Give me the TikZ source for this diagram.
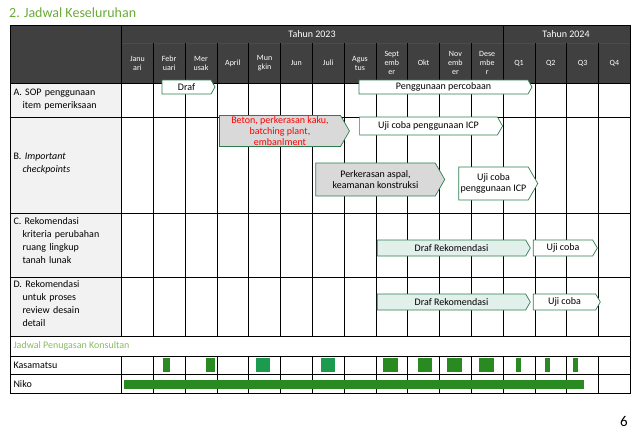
\documentclass[tikz,border=0pt]{standalone}
\usepackage{fontspec}
\setmainfont{Carlito}
\usetikzlibrary{positioning, shapes.symbols, calc}
\definecolor{hdr}{HTML}{404040}
\definecolor{lblbg}{HTML}{F2F2F2}
\definecolor{ttl}{HTML}{6AAA38}
\definecolor{taskline}{HTML}{2E7D4F}
\definecolor{graybox}{HTML}{D9D9D9}
\definecolor{tealbg}{HTML}{E2F0EC}
\definecolor{bardark}{HTML}{2A8A22}
\definecolor{barlight}{HTML}{1C9A4E}
\begin{document}
\begin{tikzpicture}[x=1pt, y=-1pt,
    task/.style={
        signal, signal to=east, signal pointer angle=120, draw=taskline, line width=0.7pt,
        fill=#1, font=\fontsize{10}{11}\selectfont, align=center, inner sep=1pt
    },
    task/.default=white,
    rowlbl/.style={
        font=\fontsize{10}{13}\selectfont, align=left, anchor=north west, text width=110pt
    },
    hdrlbl/.style={
        font=\fontsize{8}{9}\selectfont, color=white, align=center
    },
    bar/.style={fill=#1, draw=none}
]
\useasboundingbox (0,0) rectangle (638,442);

% Title
\node[font=\fontsize{14}{15}\selectfont, color=ttl, anchor=west, inner sep=0pt] (title) at (9,13) {2. Jadwal Keseluruhan};

% Header
\fill[hdr] (10,25) rectangle (630,83);
\fill[lblbg] (10,83) rectangle (121.5,336);
\node[hdrlbl, font=\fontsize{10}{11}\selectfont] (y2023) at (312,34) {Tahun 2023};
\node[hdrlbl, font=\fontsize{10}{11}\selectfont] (y2024) at (566,34) {Tahun 2024};
\draw[black!70, line width=0.8pt] (121.5,43) -- (630,43);
\foreach \m [count=\i from 0] in {Janu\\ari, Febr\\uari, Mer\\usak, April, Mun\\gkin, Jun, Juli,
    Agus\\tus, Sept\\emb\\er, Okt, Nov\\emb\\er, Dese\\mbe\\r, Q1, Q2, Q3, Q4} {
    \node[hdrlbl] (m\i) at ({137.4+31.8*\i},63) {\m};
}

% Grid lines
\foreach \i in {0,...,16} {
    \draw[black, line width=0.6pt] ({121.5+31.8*\i},43) -- ({121.5+31.8*\i},336);
    \draw[black, line width=0.6pt] ({121.5+31.8*\i},356) -- ({121.5+31.8*\i},393);
}
\draw[black, line width=0.8pt] (121.5,25) -- (121.5,83);
\draw[black, line width=0.8pt] (503,25) -- (503,83);
\foreach \y in {83,117,213,277,336,356,374,393} {
    \draw[black, line width=0.6pt] (10,\y) -- (630,\y);
}
\draw[black, line width=0.6pt] (10,25) rectangle (630,393);

% Row labels
\node[rowlbl] (ra) at (10,85) {A. SOP penggunaan\\\hspace{9pt}item pemeriksaan};
\node[rowlbl] (rb) at (10,150) {B. \textit{Important}\\\hspace{9pt}\textit{checkpoints}};
\node[rowlbl] (rc) at (10,214) {C. Rekomendasi\\\hspace{9pt}kriteria perubahan\\\hspace{9pt}ruang lingkup\\\hspace{9pt}tanah lunak};
\node[rowlbl] (rd) at (10,277) {D. Rekomendasi\\\hspace{9pt}untuk proses\\\hspace{9pt}review desain\\\hspace{9pt}detail};
\node[rowlbl, text width=, color=ttl!80, anchor=west] (jadwal) at (10,346) {Jadwal Penugasan Konsultan};
\node[rowlbl, anchor=west] (kasa) at (10,365) {Kasamatsu};
\node[rowlbl, anchor=west] (niko) at (10,384) {Niko};

% Tasks
\node[task, minimum width=53pt, minimum height=14pt] (draf) at (186.5,87) {Draf};
\node[task, minimum width=173pt, minimum height=14pt] (percobaan) at (443.5,87) {Penggunaan percobaan};
\node[task=graybox, minimum width=130pt, minimum height=30pt, text=red] (beton) at (280,131)
    {Beton, perkerasan kaku,\\batching plant,\\embanlment};
\node[task, minimum width=143pt, minimum height=18pt] (icp1) at (428.5,126) {Uji coba penggunaan ICP};
\node[task=graybox, minimum width=129pt, minimum height=33pt] (aspal) at (375.5,179.5)
    {Perkerasan aspal,\\keamanan konstruksi};
\node[task, minimum width=79pt, minimum height=33pt] (icp2) at (493.5,183.5) {Uji coba\\penggunaan ICP};
\node[task=tealbg, minimum width=153pt, minimum height=16pt] (drafc) at (451.5,248) {Draf Rekomendasi};
\node[task, minimum width=64pt, minimum height=16pt] (ujic) at (563,248) {Uji coba};
\node[task=tealbg, minimum width=153pt, minimum height=16pt] (drafd) at (451.5,302) {Draf Rekomendasi};
\node[task, minimum width=67pt, minimum height=16pt] (ujid) at (564.5,302) {Uji coba};

% Consultant bars
\foreach \a/\b/\c in {163/170/bardark, 206/215/bardark, 256/270/barlight, 321/335/barlight,
    383/398/bardark, 418/432/bardark, 447/462/bardark, 479/494/bardark,
    516/521/bardark, 545/550/bardark, 573/578/bardark} {
    \fill[bar=\c] (\a,358) rectangle (\b,372);
}
\fill[bar=bardark] (124,380) rectangle (584,389);

% Page number
\node[font=\fontsize{15}{16}\selectfont] (page) at (624,421) {6};
\end{tikzpicture}
\end{document}
